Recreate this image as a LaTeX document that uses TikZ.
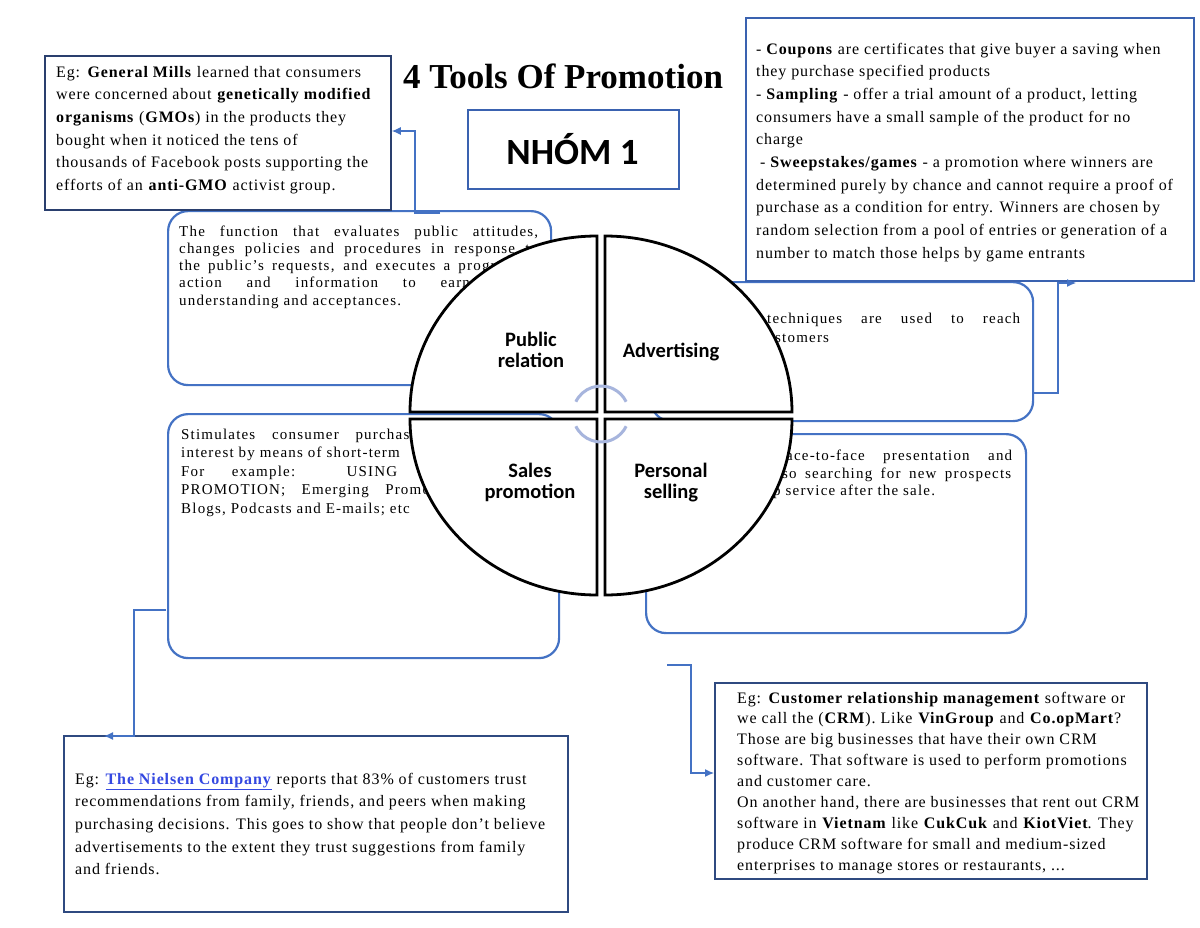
\documentclass[tikz,border=0pt]{standalone}
\usepackage{fontspec}
\setmainfont{Liberation Serif}
\newfontfamily\bodyfont{Liberation Serif}[LetterSpace=5.5]
\newfontfamily\roundfont{Liberation Serif}[LetterSpace=8]
\newfontfamily\calfont{Carlito}
\usetikzlibrary{arrows.meta}
\definecolor{boxblue}{HTML}{4472C4}
\definecolor{midblue}{HTML}{3A62B0}
\definecolor{navy}{HTML}{2F4A80}
\definecolor{darknavy}{HTML}{2A3F6E}
\definecolor{linkblue}{RGB}{52,72,225}
\definecolor{arcblue}{HTML}{A7B5DD}
\newcommand\jline[2]{\makebox[#1pt][s]{#2}}
\newcommand\bodytext[2]{\parbox[t]{700pt}{\bodyfont\fontsize{16}{#1}\selectfont #2}}
\newcommand\roundtext[2]{\parbox[t]{700pt}{\roundfont\fontsize{15}{#1}\selectfont\leavevmode #2}}
\newcommand\quadlabel[1]{\parbox[t]{160pt}{\centering\calfont\bfseries\fontsize{20.5}{21}\selectfont #1}}
\begin{document}
\begin{tikzpicture}[x=1pt,y=-1pt,
  sqbox/.style={draw=navy, line width=1.8pt, anchor=north west, inner sep=0},
  rbox/.style={draw=boxblue, line width=2.2pt, rounded corners=20pt, anchor=north west, inner sep=0},
  conn/.style={draw=boxblue, line width=1.2pt, -{Latex[length=9pt,width=8pt]}},
  quad/.style={draw=black, line width=2.8pt, fill=white, line join=miter},
  txt/.style={anchor=base west, inner sep=0},
  cen/.style={anchor=base, inner sep=0}]
\useasboundingbox (0,0) rectangle (1200,927);
\fill[white] (0,0) rectangle (1200,927);

% ---------- boxes ----------
\node[rbox, minimum width=383pt, minimum height=174pt] (pr) at (167,210) {};
\node[rbox, minimum width=382pt, minimum height=139pt] (ad) at (650,281) {};
\node[rbox, minimum width=391pt, minimum height=244pt] (sp) at (167,413) {};
\node[rbox, minimum width=380pt, minimum height=199pt] (ps) at (645,433) {};
\node[sqbox, draw=darknavy, minimum width=346pt, minimum height=154pt] (tl) at (44,55) {};
\node[sqbox, draw=midblue, line width=2pt, minimum width=448pt, minimum height=263pt] (tr) at (745,17) {};
\node[sqbox, draw=midblue, line width=2pt, minimum width=211pt, minimum height=79pt] (nh) at (467,109) {};
\node[sqbox, minimum width=504pt, minimum height=176pt] (bl) at (63,735) {};
\node[sqbox, minimum width=432pt, minimum height=196pt] (br) at (714,682) {};

% ---------- title ----------
\node[cen] (title) at (563,88) {\fontsize{35}{38}\selectfont\bfseries 4 Tools Of Promotion};
\node[cen] (nhtext) at (572.5,164) {\calfont\bfseries\fontsize{37}{40}\selectfont NHÓM 1};

% ---------- texts in square boxes ----------
\node[txt] (tltext) at (56,77) {\bodytext{22.7}{%
Eg: \textbf{General Mills} learned that consumers\\
were concerned about \textbf{genetically modified}\\
\textbf{organisms} (\textbf{GMOs}) in the products they\\
bought when it noticed the tens of\\
thousands of Facebook posts supporting the\\
efforts of an \textbf{anti-GMO} activist group.}};

\node[txt] (trtext) at (756,54) {\bodytext{22.7}{%
- \textbf{Coupons} are certificates that give buyer a saving when\\
they purchase specified products\\
- \textbf{Sampling} - offer a trial amount of a product, letting\\
consumers have a small sample of the product for no\\
charge\\
\hspace*{4pt}- \textbf{Sweepstakes/games} - a promotion where winners are\\
determined purely by chance and cannot require a proof of\\
purchase as a condition for entry. Winners are chosen by\\
random selection from a pool of entries or generation of a\\
number to match those helps by game entrants}};

\node[txt] (bltext) at (75,784) {\bodytext{22.7}{%
Eg: {\color{linkblue}\underline{\textbf{The Nielsen Company}}} reports that 83\% of customers trust\\
recommendations from family, friends, and peers when making\\
purchasing decisions. This goes to show that people don’t believe\\
advertisements to the extent they trust suggestions from family\\
and friends.}};

\node[txt] (brtext) at (737,703) {\bodytext{20.9}{%
Eg: \textbf{Customer relationship management} software or\\
we call the (\textbf{CRM}). Like \textbf{VinGroup} and \textbf{Co.opMart}?\\
Those are big businesses that have their own CRM\\
software. That software is used to perform promotions\\
and customer care.\\
On another hand, there are businesses that rent out CRM\\
software in \textbf{Vietnam} like \textbf{CukCuk} and \textbf{KiotViet}. They\\
produce CRM software for small and medium-sized\\
enterprises to manage stores or restaurants, ...}};

% ---------- texts in rounded boxes ----------
\node[txt] (prtext) at (179,236) {\roundtext{17.3}{%
\jline{359}{The function that evaluates public attitudes,}\\
\jline{359}{changes policies and procedures in response to}\\
\jline{359}{the public’s requests, and executes a program of}\\
\jline{359}{action and information to earn public}\\
understanding and acceptances.}};

\node[txt] (sptext) at (181,439) {\roundtext{18.5}{%
\jline{236}{Stimulates consumer purchase}\\
interest by means of short-term\\
\jline{216}{For example: USING}\\
\jline{277}{PROMOTION; Emerging Promotion}\\
Blogs, Podcasts and E-mails; etc}};

\node[txt] (adtext1) at (767,323) {\roundtext{18}{\jline{253}{techniques are used to reach}}};
\node[txt] (adtext2) at (775,342) {\roundtext{18}{\llap{cu}stomers}};

\node[txt] (pstext1) at (786,460) {\roundtext{18}{\llap{f}\jline{226}{ace-to-face presentation and}}};
\node[txt] (pstext2) at (782,478) {\roundtext{18}{\llap{al}\jline{229}{so searching for new prospects}}};
\node[txt] (pstext3) at (773,495) {\roundtext{18}{\llap{u}p service after the sale.}};

% ---------- connectors ----------
\coordinate (c1s) at (440,213);
\coordinate (c1k) at (415,131);
\draw[conn] (c1s) -| (c1k) -- (tl.east |- c1k);

\coordinate (c2s) at (1032,393);
\coordinate (c2k) at (1058,283);
\coordinate (c2e) at (1076,283);
\draw[conn] (c2s) -| (c2k) -- (c2e);

\coordinate (c3s) at (166,610);
\coordinate (c3k) at (134,736);
\coordinate (c3e) at (104,736);
\draw[conn] (c3s) -| (c3k) -- (c3e);

\coordinate (c4s) at (667,665);
\coordinate (c4k) at (691,773);
\draw[conn] (c4s) -| (c4k) -- (br.west |- c4k);

% ---------- circle quadrants ----------
\draw[quad] (597,412) -- (410,412) arc[start angle=180, end angle=270, x radius=187, y radius=176] -- cycle;
\draw[quad] (605,412) -- (792,412) arc[start angle=0, end angle=-90, x radius=187, y radius=176] -- cycle;
\draw[quad] (597,419) -- (410,419) arc[start angle=180, end angle=90, x radius=187, y radius=176] -- cycle;
\draw[quad] (605,419) -- (792,419) arc[start angle=0, end angle=90, x radius=187, y radius=176] -- cycle;

% ---------- circular arrows ----------
\draw[arcblue, line width=3pt] (601,414) ++(206:28) arc[start angle=206, end angle=334, radius=28];
\draw[arcblue, line width=3pt] (601,414) ++(154:28) arc[start angle=154, end angle=26, radius=28];

% ---------- quadrant labels ----------
\node[cen] (lpr) at (531,346) {\quadlabel{Public\\relation}};
\node[cen] (lad) at (671,357) {\quadlabel{Advertising}};
\node[cen] (lsp) at (530,477) {\quadlabel{Sales\\promotion}};
\node[cen] (lps) at (671,477) {\quadlabel{Personal\\selling}};
\end{tikzpicture}
\end{document}
